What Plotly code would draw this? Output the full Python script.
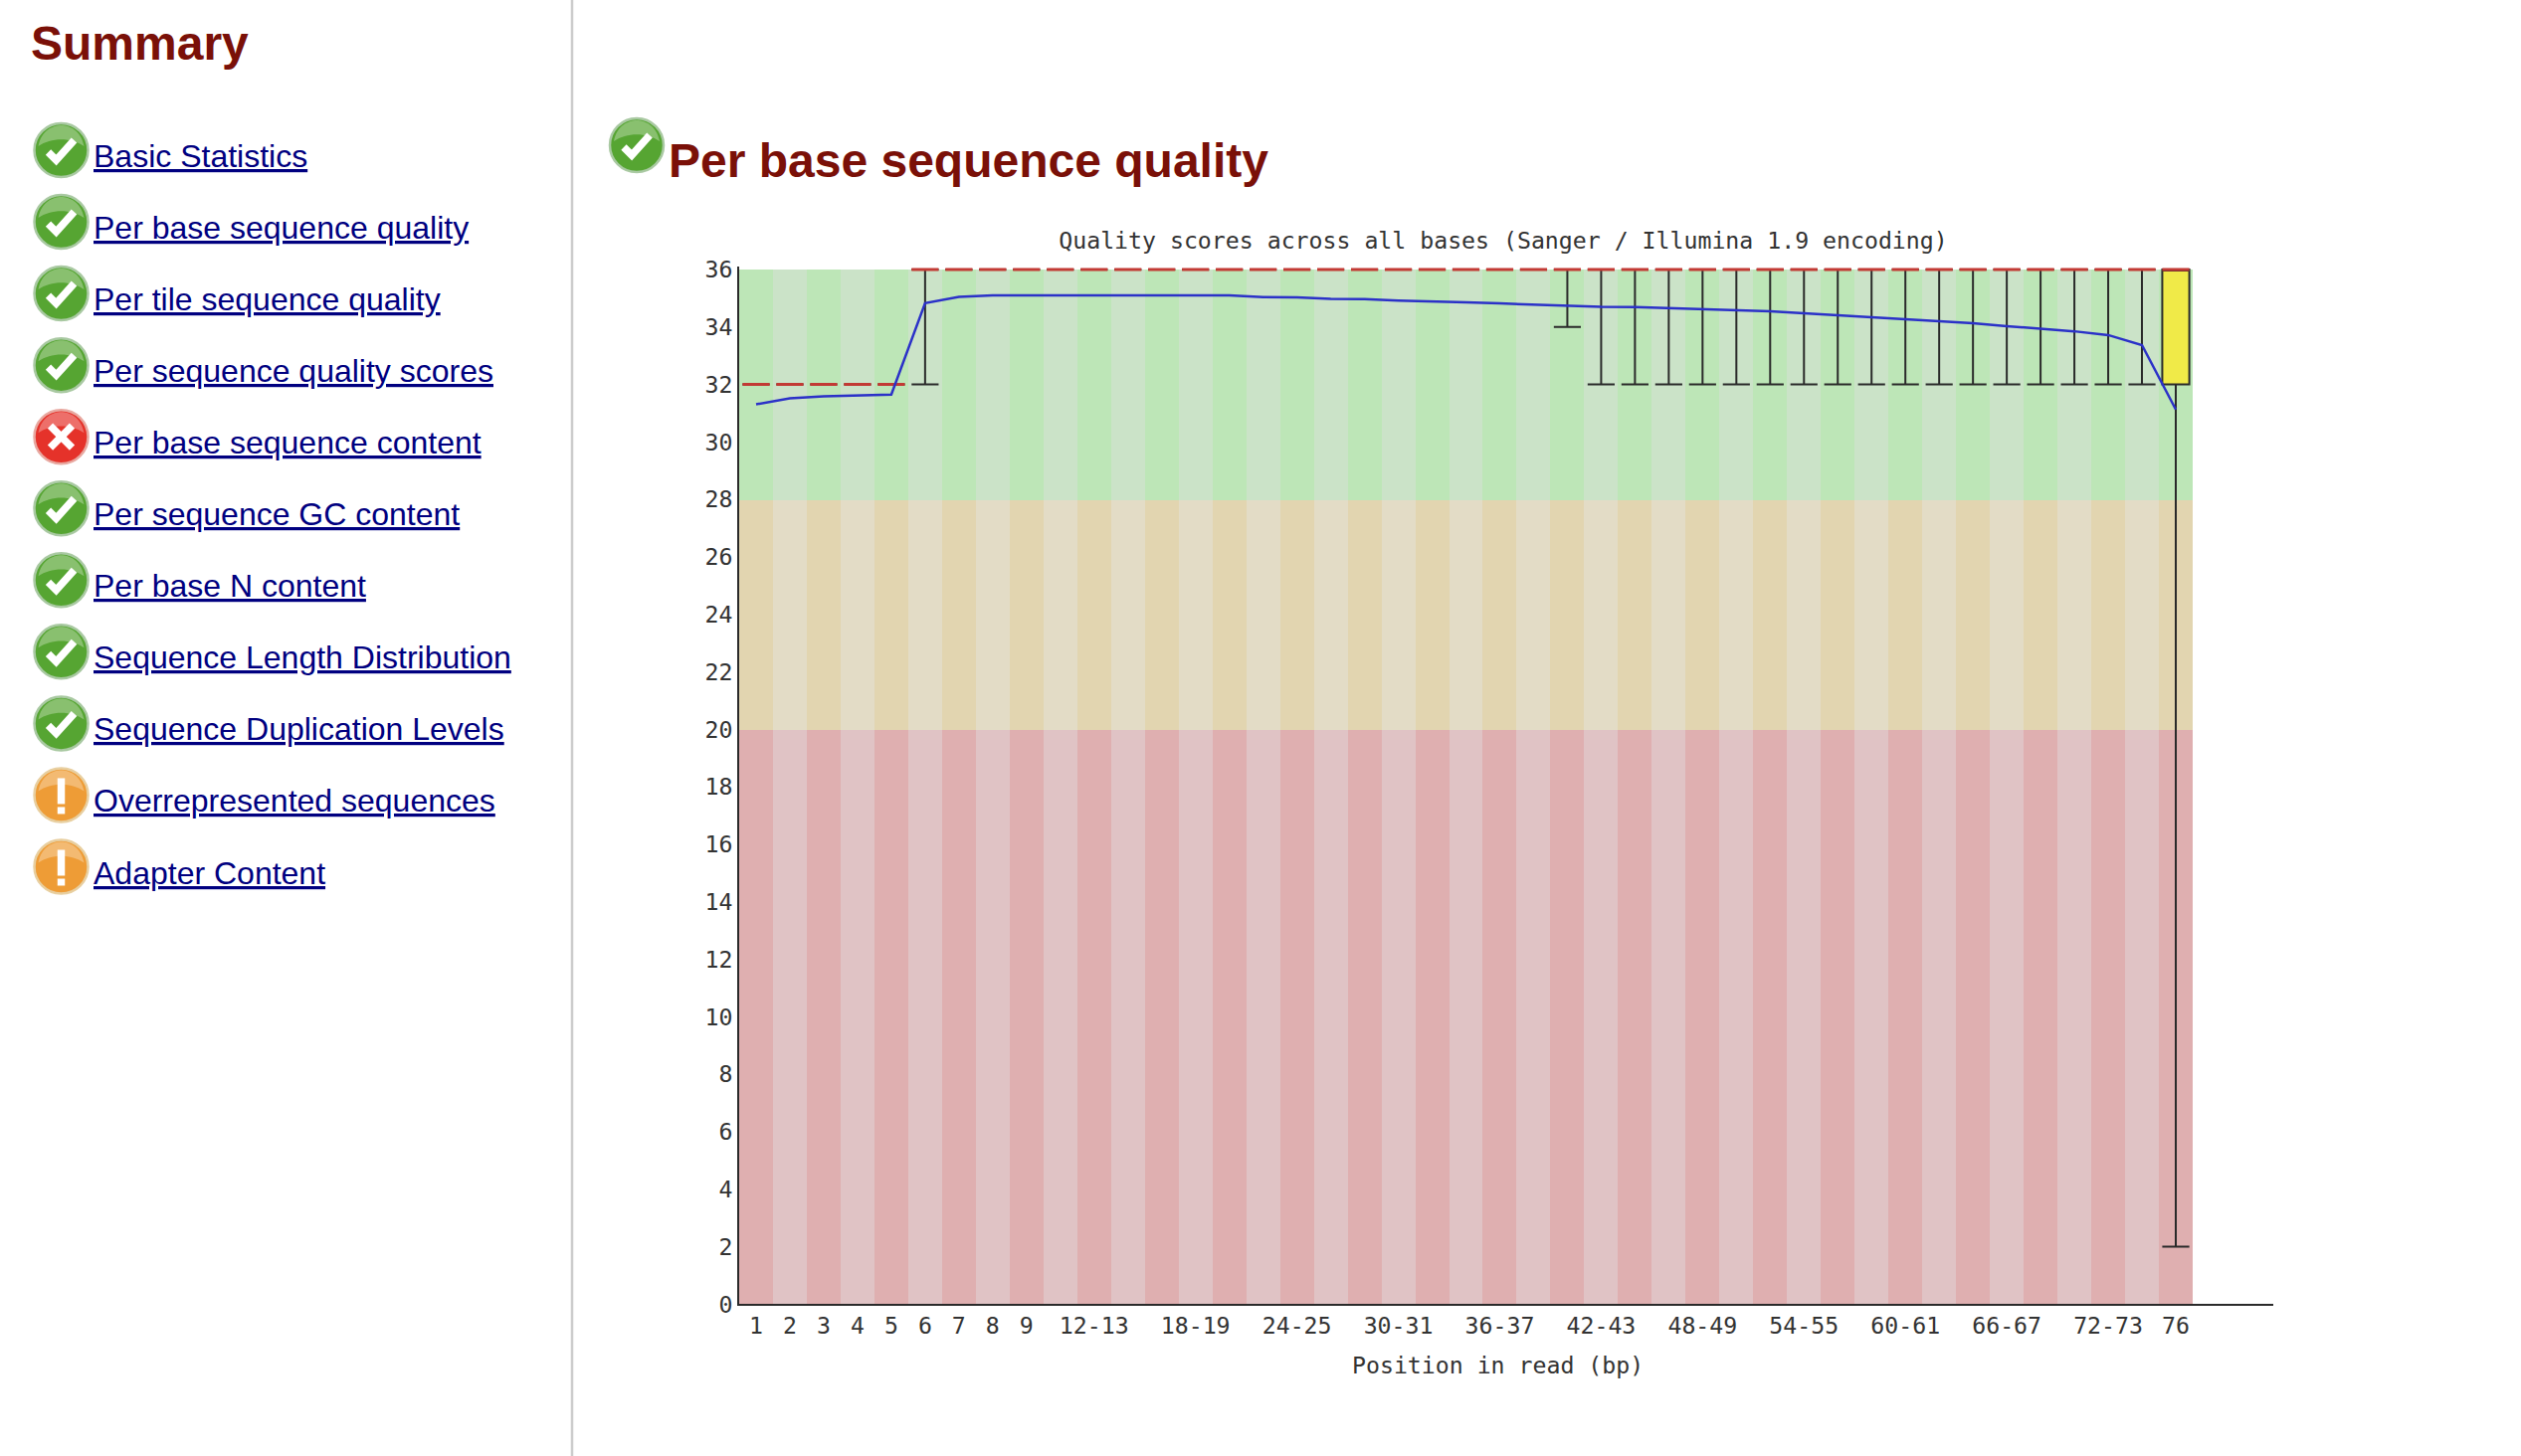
import plotly.graph_objects as go

# ---- data ----
categories = ["1","2","3","4","5","6","7","8","9"] + [f"{a}-{a+1}" for a in range(10, 75, 2)] + ["76"]
tick_labels = ["1","2","3","4","5","6","7","8","9","12-13","18-19","24-25","30-31","36-37",
               "42-43","48-49","54-55","60-61","66-67","72-73","76"]
mean_q = [31.31,31.52,31.59,31.63,31.65,34.83,35.05,35.1,35.1,35.1,35.1,35.1,35.1,35.1,35.1,
          35.04,35.03,34.98,34.97,34.92,34.9,34.86,34.82,34.78,34.75,34.7,34.69,34.65,34.63,
          34.58,34.55,34.48,34.41,34.34,34.27,34.2,34.13,34.03,33.93,33.85,33.72,33.37,31.13]
median_q = [32]*5 + [36]*38
q1_q = [32]*5 + [36]*37 + [32]
q3_q = [32]*5 + [36]*38
low_q = [32]*5 + [32] + [36]*18 + [34] + [32]*17 + [2]
high_q = [32]*5 + [36]*38
zone_names = ["poor", "reasonable", "good"]
zone_heights = [20, 8, 8]
y_ticks = list(range(0, 37, 2))
sections = ["Basic Statistics","Per base sequence quality","Per tile sequence quality",
            "Per sequence quality scores","Per base sequence content","Per sequence GC content",
            "Per base N content","Sequence Length Distribution","Sequence Duplication Levels",
            "Overrepresented sequences","Adapter Content"]
statuses = ["ok","ok","ok","ok","fail","ok","ok","ok","ok","warn","warn"]

# ---- styles / layout ----
W, H = 2534, 1464
X0, X1 = 743, 2285
Y_TOP, Y_BOT = 271, 1311.4
UNIT = (Y_BOT - Y_TOP) / 36
YMAX = 36.12
BAND = (2204 - 743) / 43
XMAX = -0.5 + (X1 - X0) / BAND
zone_colors = {"good": ("#bde6b7", "#cbe3c8"), "reasonable": ("#e2d5b0", "#e3dcc6"),
               "poor": ("#dfafb0", "#e0c3c5")}
MONO = "DejaVu Sans Mono, monospace"
SANS = "Liberation Sans, Arial, sans-serif"
INK = "#2a2a2a"
icon_colors = {"ok": ("#56a532", "#a9c9a2"), "fail": ("#e5322a", "#e8a8a0"), "warn": ("#ee9c36", "#e8cfa0")}

xs = list(range(len(categories)))
fig = go.Figure()

for zone, height in zip(zone_names, zone_heights):
    dark, light = zone_colors[zone]
    fig.add_trace(go.Bar(x=xs, y=[height]*len(xs), width=1, name=zone, showlegend=False,
                         marker=dict(color=[dark if i % 2 == 0 else light for i in xs], line_width=0),
                         hoverinfo="skip"))

fig.add_trace(go.Box(x=xs, q1=q1_q, median=median_q, q3=q3_q, lowerfence=low_q, upperfence=high_q,
                     width=0.8, whiskerwidth=1, fillcolor="#f0ea48", boxpoints=False,
                     line=dict(color=INK, width=2), showlegend=False, name="Quality"))

mx, my = [], []
for i, m in zip(xs, median_q):
    mx += [i - 0.4, i + 0.4, None]
    my += [m, m, None]
fig.add_trace(go.Scatter(x=mx, y=my, mode="lines", line=dict(color="#c23a34", width=3),
                         showlegend=False, name="Median"))
fig.add_trace(go.Scatter(x=xs, y=mean_q, mode="lines", line=dict(color="#2b31c8", width=2.5),
                         showlegend=False, name="Mean"))

# icons, in page-pixel axes
rows = [(61.5, 151 + 72.05*i, s) for i, s in enumerate(statuses)] + [(640, 146, "ok")]
for status in ("ok", "fail", "warn"):
    pts = [r for r in rows if r[2] == status]
    body, rim = icon_colors[status]
    fig.add_trace(go.Scatter(x=[p[0] for p in pts], y=[p[1] for p in pts], xaxis="x2", yaxis="y2",
                             mode="markers", showlegend=False, hoverinfo="skip",
                             marker=dict(size=54, color=body, line=dict(color=rim, width=2.5))))

shapes = []
for cx, cy, status in rows:
    shapes.append(dict(type="path", xref="x2", yref="y2", layer="above", line_width=0,
                       fillcolor="rgba(255,255,255,0.30)",
                       path=f"M {cx-23} {cy-4} C {cx-20} {cy-20} {cx-8} {cy-25} {cx} {cy-25} "
                            f"C {cx+8} {cy-25} {cx+20} {cy-20} {cx+23} {cy-4} "
                            f"C {cx+10} {cy-13} {cx-10} {cy-13} {cx-23} {cy-4} Z"))
    if status == "ok":
        paths = [f"M {cx-13} {cy+2} L {cx-5} {cy+10} L {cx+13} {cy-10}"]
    elif status == "fail":
        paths = [f"M {cx-11} {cy-11} L {cx+11} {cy+11}", f"M {cx-11} {cy+11} L {cx+11} {cy-11}"]
    else:
        paths = [f"M {cx} {cy-17} L {cx} {cy+9}", f"M {cx} {cy+12} L {cx} {cy+19}"]
    for p in paths:
        shapes.append(dict(type="path", path=p, xref="x2", yref="y2", layer="above",
                           line=dict(color="white", width=7.5)))
shapes.append(dict(type="line", xref="x2", yref="y2", x0=575, x1=575, y0=0, y1=H,
                   line=dict(color="#cccccc", width=2.5), layer="below"))

PAD = 2
annotations = [
    dict(text="<b>Summary</b>", x=31-PAD, y=43, font=dict(family=SANS, size=48, color="#7a1008")),
    dict(text="<b>Per base sequence quality</b>", x=672-PAD, y=161, font=dict(family=SANS, size=48, color="#7a1008")),
]
for i, s in enumerate(sections):
    annotations.append(dict(text=f"<u>{s}</u>", x=94-PAD, y=157 + 72.05*i,
                            font=dict(family=SANS, size=32, color="#000080")))
for a in annotations:
    a.update(xref="x2", yref="y2", xanchor="left", yanchor="middle", showarrow=False)

axis_font = dict(family=MONO, size=23.2, color="#333333")
annotations.append(dict(text="Position in read (bp)", xref="x2", yref="y2", x=1505, y=1372,
                        xanchor="center", yanchor="middle", showarrow=False, font=axis_font))
fig.update_layout(
    width=W, height=H, margin=dict(l=0, r=0, t=0, b=0, autoexpand=False),
    paper_bgcolor="white", plot_bgcolor="rgba(0,0,0,0)", barmode="stack", boxmode="overlay",
    bargap=0, showlegend=False, shapes=shapes, annotations=annotations,
    title=dict(text="Quality scores across all bases (Sanger / Illumina 1.9 encoding)",
               x=1511/W, xanchor="center", y=1-242/H, yanchor="middle", font=axis_font),
    xaxis=dict(domain=[X0/W, X1/W], range=[-0.5, XMAX], tickmode="array",
               tickvals=[categories.index(t) for t in tick_labels],
               ticktext=tick_labels, tickfont=axis_font, showgrid=False, zeroline=False,
               showline=True, linecolor=INK, linewidth=2, ticks="outside", ticklen=0,
               tickcolor="rgba(0,0,0,0)", tickangle=0),
    yaxis=dict(domain=[1-Y_BOT/H, 1-(Y_TOP-(YMAX-36)*UNIT)/H], range=[0, YMAX], tickmode="array",
               tickvals=y_ticks, ticktext=[str(v) for v in y_ticks], tickfont=axis_font,
               showgrid=False, zeroline=False, showline=True, linecolor=INK, linewidth=2,
               ticks="outside", ticklen=0, tickcolor="rgba(0,0,0,0)"),
    xaxis2=dict(domain=[0, 1], range=[0, W], visible=False, anchor="y2"),
    yaxis2=dict(domain=[0, 1], range=[H, 0], visible=False, anchor="x2"),
)
fig.write_html("out.html", post_script="document.body.style.margin='0';document.body.style.overflow='hidden';",
               config={"displayModeBar": False})
